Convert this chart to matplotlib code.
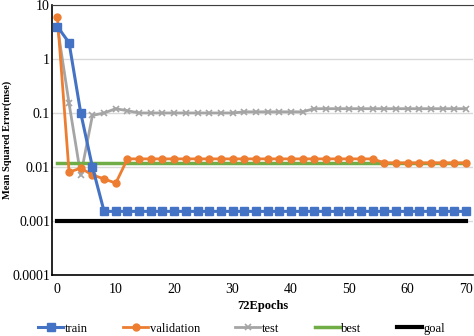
import numpy as np
import matplotlib.pyplot as plt

plt.rcParams['font.family'] = ['Liberation Serif', 'DejaVu Serif']

# epochs (markers every 2 epochs)
epochs = list(range(0, 72, 2))

train = [4, 2, 0.1, 0.01] + [0.0015] * 32
validation = [6, 0.008, 0.0095, 0.0071, 0.006, 0.005] + [0.0141] * 22 + [0.0119] * 8
test = [4, 0.15, 0.007, 0.09, 0.1, 0.12, 0.11] + [0.1] * 9 + [0.105] * 6 + [0.12] * 14
best = [0.012] * 36
goal = [0.001] * 36

fig = plt.figure(figsize=(4.74, 3.36), dpi=100)
ax = fig.add_axes([0.11, 0.182, 0.888, 0.803])

ax.plot(epochs, train, color='#4472C4', lw=2.2, marker='s', ms=5.5, label='train', zorder=5)
ax.plot(epochs, validation, color='#ED7D31', lw=2.0, marker='o', ms=5, label='validation', zorder=4)
ax.plot(epochs, test, color='#A5A5A5', lw=2.0, marker='x', ms=5, mew=1.2, label='test', zorder=3)
ax.plot(epochs, best, color='#70AD47', lw=2.5, label='best', zorder=3.5)
ax.plot(epochs, goal, color='black', lw=3, label='goal', zorder=2)

ax.set_yscale('log')
ax.set_ylim(0.0001, 10)
ax.set_xlim(-0.9, 71.2)
ax.set_yticks([0.0001, 0.001, 0.01, 0.1, 1, 10])
ax.set_yticklabels(['0.0001', '0.001', '0.01', '0.1', '1', '10'])
ax.set_xticks(range(0, 71, 10))
ax.minorticks_off()
ax.tick_params(length=0, labelsize=10)
ax.tick_params(axis='y', pad=1.5)
ax.tick_params(axis='x', pad=6)
ax.yaxis.grid(True, color='#D9D9D9', lw=1)
ax.set_axisbelow(True)

ax.spines['right'].set_visible(False)
ax.spines['top'].set_color('#404040')
ax.spines['left'].set_color('black')
ax.spines['bottom'].set_color('black')
ax.spines['left'].set_linewidth(1.2)
ax.spines['bottom'].set_linewidth(1.2)

ax.set_xlabel('72Epochs', fontweight='bold', fontsize=9, labelpad=3)
ax.set_ylabel('Mean Squared Error(mse)', fontweight='bold', fontsize=7.5)
ax.yaxis.set_label_coords(-0.095, 0.5)

fig.legend(loc='lower center', ncol=5, frameon=False, fontsize=9,
           handlelength=2.0, handletextpad=0.15, columnspacing=2.8,
           bbox_to_anchor=(0.51, -0.03))

plt.savefig('out.png', dpi=100)
